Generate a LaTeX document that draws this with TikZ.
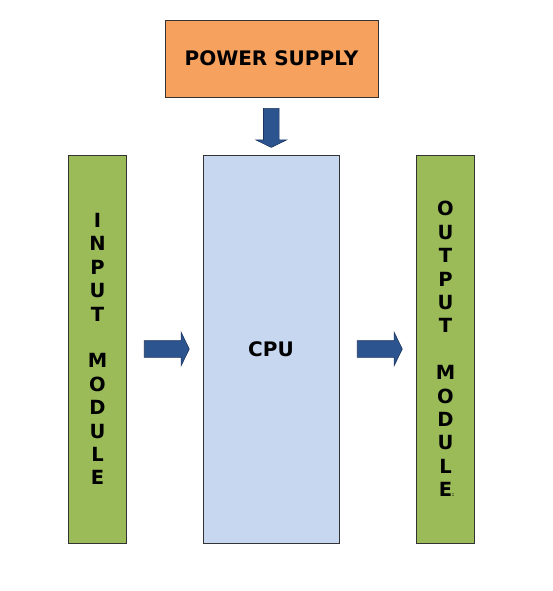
\documentclass[tikz,border=0pt]{standalone}
\usepackage{fontspec}
\setmainfont{DejaVu Sans}
\usetikzlibrary{calc,shapes,shapes.arrows,positioning}
\definecolor{supplyorange}{HTML}{F6A25E}
\definecolor{cpublue}{HTML}{C6D7EF}
\definecolor{modgreen}{HTML}{9BBB59}
\definecolor{arrowblue}{HTML}{2C5590}
\definecolor{arrowline}{HTML}{1B3460}
\begin{document}
\begin{tikzpicture}[x=1pt,y=-1pt,font=\bfseries]
\tikzstyle{block}=[draw=black!80,line width=0.8pt,inner sep=0pt,text=black]
\tikzstyle{module}=[block,fill=modgreen,minimum width=58pt,minimum height=388pt,align=center,font=\bfseries\fontsize{19.5}{23.4}\selectfont]
\tikzstyle{flow}=[single arrow,draw=arrowline,fill=arrowblue,line width=0.6pt,inner sep=0pt,inner ysep=8pt,single arrow head extend=8.5pt,single arrow tip angle=128,minimum height=45pt]
\useasboundingbox (0,0) rectangle (552,591);
\node[block,fill=supplyorange,minimum width=213pt,minimum height=77pt,font=\bfseries\fontsize{20}{24}\selectfont] at (271.5,58.5) (power){POWER SUPPLY};
\node[block,fill=cpublue,minimum width=136pt,minimum height=388pt,font=\bfseries\fontsize{20}{24}\selectfont] at (271,349) (cpu){CPU};
\node[module] at (97.5,349) (input){I\\N\\P\\U\\T\\[23.4pt]M\\O\\D\\U\\L\\E};
\node[module] at (445.5,349) (output){O\\U\\T\\P\\U\\T\\[23.4pt]M\\O\\D\\U\\L\\E\rlap{\fontsize{5}{5}\selectfont :}};
 %arrows
\node[flow,inner ysep=7.5pt,single arrow head extend=7.5pt,minimum height=39pt,rotate=-90] at ($(power.south)!0.5!(cpu.north)$) (down){};
\node[flow] at ($(input.east)!0.5!(cpu.west)$) (in2cpu){};
\node[flow] at ($(cpu.east)!0.5!(output.west)$) (cpu2out){};
\end{tikzpicture}
\end{document}
